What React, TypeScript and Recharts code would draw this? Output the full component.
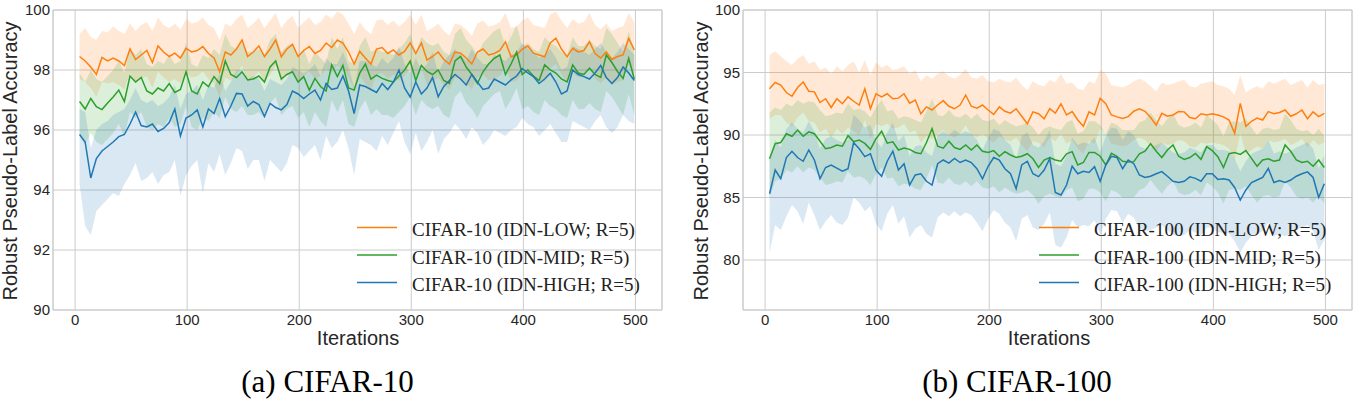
import React from 'react';
import { ComposedChart, Line, Area, XAxis, YAxis, CartesianGrid, ReferenceLine } from 'recharts';

// iterations sampled every 5 steps
const iterations = Array.from({ length: 100 }, (_, i) => 4 + i * 5);
const xTicks = [0, 100, 200, 300, 400, 500];
const xDomain: [number, number] = [-19.7, 523.7];

const cifar10YTicks = [90, 92, 94, 96, 98, 100];
const cifar100YTicks = [80, 85, 90, 95, 100];

// ---- CIFAR-10 ----
const c10Low = [
  98.45, 98.3, 98.1, 97.85, 98.42, 98.3, 98.4, 98.3, 98.15, 98.7,
  98.35, 98.5, 98.65, 98.25, 98.8, 98.6, 98.45, 98.56, 98.4, 98.72,
  98.6, 98.65, 98.78, 98.55, 98.4, 97.94, 98.6, 98.5, 98.7, 99.0,
  98.45, 98.6, 98.8, 98.45, 98.7, 99.0, 98.44, 98.7, 98.85, 98.45,
  98.65, 98.78, 98.55, 98.65, 98.9, 98.75, 99.0, 98.9, 98.6, 98.2,
  98.62, 98.4, 98.2, 98.7, 98.75, 98.55, 98.67, 98.5, 98.62, 98.9,
  98.55, 98.9, 98.33, 98.45, 98.6, 98.35, 98.2, 98.6, 98.56, 98.4,
  98.2, 98.6, 98.7, 98.5, 98.55, 98.65, 98.94, 98.44, 98.5, 98.7,
  98.8, 98.56, 98.5, 98.44, 98.9, 99.06, 98.7, 98.44, 98.72, 98.6,
  98.65, 98.94, 98.55, 98.4, 98.6, 98.35, 98.45, 98.5, 99.05, 98.67,
];
const c10LowHi = [
  99.2, 99.4, 99.1, 99.0, 99.3, 99.25, 99.45, 99.3, 99.2, 99.55,
  99.3, 99.5, 99.6, 99.3, 99.75, 99.5, 99.4, 99.55, 99.35, 99.7,
  99.55, 99.6, 99.75, 99.5, 99.4, 99.0, 99.55, 99.45, 99.7, 99.85,
  99.4, 99.55, 99.75, 99.4, 99.65, 99.9, 99.4, 99.65, 99.8, 99.4,
  99.6, 99.75, 99.5, 99.6, 99.85, 99.7, 99.95, 99.85, 99.55, 99.2,
  99.6, 99.35, 99.2, 99.65, 99.7, 99.5, 99.65, 99.45, 99.6, 99.85,
  99.5, 99.85, 99.3, 99.4, 99.55, 99.3, 99.15, 99.55, 99.5, 99.35,
  99.15, 99.55, 99.65, 99.45, 99.5, 99.6, 99.9, 99.4, 99.45, 99.65,
  99.75, 99.5, 99.45, 99.4, 99.85, 99.95, 99.65, 99.4, 99.7, 99.55,
  99.6, 99.9, 99.5, 99.35, 99.55, 99.3, 99.4, 99.45, 99.9, 99.6,
];
const c10LowLo = [
  97.7, 97.6, 97.4, 97.1, 97.6, 97.55, 97.6, 97.5, 97.35, 97.9,
  97.55, 97.7, 97.8, 97.4, 97.95, 97.75, 97.6, 97.7, 97.55, 97.9,
  97.75, 97.8, 97.95, 97.7, 97.55, 97.1, 97.75, 97.65, 97.85, 98.15,
  97.6, 97.75, 97.95, 97.6, 97.85, 98.15, 97.6, 97.85, 98.0, 97.6,
  97.8, 97.95, 97.7, 97.8, 98.05, 97.9, 98.15, 98.05, 97.75, 97.35,
  97.8, 97.55, 97.35, 97.85, 97.9, 97.7, 97.85, 97.65, 97.8, 98.05,
  97.7, 98.05, 97.5, 97.6, 97.75, 97.5, 97.35, 97.75, 97.7, 97.55,
  97.35, 97.75, 97.85, 97.65, 97.7, 97.8, 98.1, 97.6, 97.65, 97.85,
  97.95, 97.7, 97.65, 97.6, 98.05, 98.2, 97.85, 97.6, 97.9, 97.75,
  97.8, 98.1, 97.7, 97.55, 97.75, 97.5, 97.6, 97.65, 98.2, 97.8,
];
const c10Mid = [
  96.95, 96.7, 97.05, 96.78, 96.68, 96.9, 97.1, 97.33, 96.95, 97.8,
  97.6, 97.75, 97.3, 97.2, 97.4, 97.3, 97.55, 97.25, 97.35, 97.94,
  97.3, 97.2, 97.6, 97.45, 97.78, 97.55, 98.3, 97.85, 97.75, 97.94,
  97.67, 97.7, 97.8, 97.6, 98.1, 98.3, 97.7, 97.85, 97.94, 97.6,
  97.78, 97.33, 97.72, 97.45, 97.3, 98.17, 97.78, 98.15, 97.4, 97.33,
  97.9, 98.2, 97.7, 97.83, 97.72, 97.65, 97.6, 97.8, 98.0, 98.3,
  97.65, 98.15, 97.95, 97.85, 98.0, 97.65, 97.55, 98.3, 98.45, 98.1,
  97.85, 97.55, 97.94, 98.2, 98.39, 98.5, 97.85, 98.2, 98.6, 97.85,
  98.0, 97.8, 97.65, 98.17, 98.0, 97.9, 97.7, 97.6, 98.17, 97.9,
  97.85, 98.06, 97.85, 97.75, 98.5, 98.25, 97.95, 97.72, 98.39, 97.7,
];
const c10MidHi = [
  97.9, 97.6, 98.0, 97.7, 97.6, 97.8, 98.0, 98.3, 97.9, 98.7,
  98.5, 98.7, 98.2, 98.1, 98.3, 98.2, 98.5, 98.2, 98.3, 98.9,
  98.2, 98.1, 98.5, 98.4, 98.7, 98.5, 99.2, 98.8, 98.7, 98.9,
  98.6, 98.6, 98.7, 98.5, 99.0, 99.2, 98.6, 98.8, 98.9, 98.5,
  98.7, 98.2, 98.6, 98.4, 98.2, 99.1, 98.7, 99.1, 98.3, 98.2,
  98.8, 99.1, 98.6, 98.7, 98.6, 98.6, 98.5, 98.7, 98.9, 99.2,
  98.6, 99.1, 98.9, 98.8, 98.9, 98.6, 98.5, 99.2, 99.4, 99.0,
  98.8, 98.5, 98.9, 99.1, 99.3, 99.4, 98.8, 99.1, 99.5, 98.8,
  98.9, 98.7, 98.6, 99.1, 98.9, 98.8, 98.6, 98.5, 99.1, 98.8,
  98.8, 99.0, 98.8, 98.7, 99.4, 99.2, 98.9, 98.6, 99.3, 98.6,
];
const c10MidLo = [
  95.8, 95.5, 95.9, 95.6, 95.5, 95.7, 95.9, 96.2, 95.8, 96.6,
  96.4, 96.6, 96.1, 96.0, 96.2, 96.1, 96.4, 96.1, 96.2, 96.8,
  96.1, 96.0, 96.4, 96.3, 96.6, 96.4, 97.1, 96.7, 96.6, 96.8,
  96.5, 96.5, 96.6, 96.4, 96.9, 97.1, 96.5, 96.7, 96.8, 96.4,
  96.6, 96.1, 96.6, 96.3, 96.1, 97.0, 96.6, 97.0, 96.2, 96.1,
  96.7, 97.0, 96.5, 96.7, 96.5, 96.5, 96.4, 96.6, 96.8, 97.1,
  96.5, 97.0, 96.8, 96.7, 96.8, 96.5, 96.4, 97.1, 97.3, 96.9,
  96.7, 96.4, 96.8, 97.0, 97.2, 97.3, 96.7, 97.0, 97.4, 96.7,
  96.8, 96.6, 96.5, 97.0, 96.8, 96.7, 96.5, 96.4, 97.0, 96.7,
  96.7, 96.9, 96.7, 96.6, 97.3, 97.1, 96.8, 96.5, 97.2, 96.5,
];
const c10High = [
  95.85, 95.6, 94.4, 95.05, 95.3, 95.45, 95.6, 95.78, 95.85, 96.2,
  96.6, 96.15, 96.1, 96.2, 95.95, 96.05, 96.25, 96.7, 95.8, 96.4,
  96.5, 96.67, 96.1, 96.7, 96.55, 97.05, 96.45, 96.8, 97.22, 97.2,
  96.8, 96.95, 96.85, 96.45, 96.89, 96.75, 96.67, 96.85, 97.3, 97.2,
  97.05, 97.2, 97.33, 97.0, 97.55, 97.35, 97.4, 97.8, 97.3, 96.55,
  97.5, 97.45, 97.35, 97.25, 97.55, 97.35, 97.6, 98.0, 97.4, 97.1,
  97.6, 97.2, 97.4, 97.75, 97.11, 97.45, 97.65, 97.85, 97.7, 97.5,
  97.85, 97.6, 97.35, 97.4, 97.7, 97.6, 97.5, 97.67, 97.8, 98.05,
  97.9, 97.78, 97.55, 97.7, 97.89, 97.6, 97.2, 97.3, 98.0, 97.85,
  97.78, 97.7, 97.9, 98.15, 97.75, 97.55, 97.75, 98.1, 97.9, 97.65,
];
const c10HighHi = [
  96.7, 96.6, 95.4, 96.0, 96.2, 96.3, 96.5, 96.6, 96.7, 97.0,
  97.4, 97.0, 96.9, 97.0, 96.8, 96.9, 97.1, 97.5, 96.7, 97.2,
  97.3, 97.5, 97.0, 97.5, 97.4, 97.9, 97.3, 97.6, 98.0, 98.0,
  97.7, 97.8, 97.7, 97.3, 97.7, 97.6, 97.5, 97.7, 98.1, 98.0,
  97.9, 98.0, 98.2, 97.8, 98.4, 98.2, 98.2, 98.6, 98.1, 97.4,
  98.3, 98.3, 98.2, 98.1, 98.4, 98.2, 98.4, 98.8, 98.2, 97.9,
  98.4, 98.0, 98.2, 98.6, 97.9, 98.3, 98.5, 98.7, 98.5, 98.3,
  98.7, 98.4, 98.2, 98.2, 98.5, 98.4, 98.3, 98.5, 98.6, 98.9,
  98.7, 98.6, 98.4, 98.5, 98.7, 98.4, 98.0, 98.1, 98.8, 98.7,
  98.6, 98.5, 98.7, 98.9, 98.6, 98.4, 98.6, 98.9, 98.7, 98.5,
];
const c10HighLo = [
  94.2, 92.8, 92.5, 93.3, 93.5, 93.7, 93.9, 93.8, 94.2, 94.5,
  94.9, 94.3, 94.4, 94.6, 94.2, 94.5, 94.6, 95.0, 93.8, 94.5,
  94.8, 95.0, 93.9, 94.9, 94.6, 95.2, 94.5, 94.9, 95.4, 95.3,
  94.7, 95.0, 95.0, 94.3, 95.0, 94.8, 94.6, 94.9, 95.5, 95.4,
  95.1, 95.3, 95.5, 95.0, 95.8, 95.4, 95.6, 96.0, 95.4, 94.5,
  95.7, 95.6, 95.5, 95.3, 95.8, 95.5, 95.9, 96.3, 95.6, 95.2,
  95.9, 95.3, 95.6, 96.0, 95.2, 95.7, 95.9, 96.2, 96.0, 95.7,
  96.1, 95.9, 95.5, 95.7, 96.0, 95.9, 95.8, 96.0, 96.1, 96.4,
  96.2, 96.1, 95.8, 96.0, 96.2, 95.9, 95.6, 95.6, 96.3, 96.2,
  96.1, 96.0, 96.3, 96.5, 96.1, 95.9, 96.1, 96.5, 96.3, 96.2,
];

// ---- CIFAR-100 ----
const c100Low = [
  93.7, 94.2, 94.0, 93.4, 93.1, 93.8, 94.25, 93.5, 93.45, 92.6,
  92.9, 92.2, 92.9, 92.5, 93.05, 92.7, 92.4, 93.7, 92.1, 93.3,
  93.05, 93.3, 92.9, 92.95, 93.3, 92.55, 92.8, 91.7, 92.25, 92.0,
  92.4, 92.75, 92.3, 92.1, 92.4, 93.2, 92.3, 92.15, 92.4, 92.0,
  91.65, 92.25, 91.9, 91.75, 92.1, 91.5, 90.9, 91.85, 91.7, 91.3,
  92.1, 91.75, 92.5, 91.6, 91.87, 91.2, 90.7, 91.85, 91.6, 92.93,
  92.5, 91.6, 91.45, 91.33, 91.47, 91.9, 92.1, 91.9, 91.4, 90.8,
  91.73, 91.5, 91.6, 91.87, 91.85, 91.4, 91.3, 91.7, 91.6, 91.7,
  91.6, 91.45, 91.2, 90.13, 92.53, 90.7, 91.1, 91.35, 91.2, 91.87,
  91.7, 91.8, 92.0, 91.5, 91.7, 92.0, 91.3, 91.85, 91.47, 91.73,
];
const c100LowHi = [
  96.4, 96.7, 96.3, 95.9, 95.6, 96.1, 96.4, 95.7, 95.9, 95.2,
  95.4, 94.9, 95.5, 95.1, 95.6, 95.9, 95.0, 96.0, 94.8, 95.8,
  95.4, 95.6, 95.2, 95.3, 95.5, 94.9, 95.2, 94.3, 94.8, 94.5,
  94.9, 95.1, 94.7, 94.5, 94.8, 95.3, 94.6, 94.5, 94.8, 94.3,
  94.2, 94.5, 94.3, 94.2, 94.6, 94.0, 93.6, 94.3, 94.0, 93.9,
  94.4, 94.2, 94.9, 94.1, 94.2, 93.7, 93.6, 94.3, 94.1, 95.2,
  94.9, 94.0, 93.9, 93.8, 94.0, 94.3, 94.5, 94.3, 93.9, 93.5,
  94.2, 94.0, 94.1, 94.3, 94.4, 93.9, 93.8, 94.1, 94.2, 94.3,
  94.0, 93.9, 93.7, 93.2, 94.8, 93.4, 93.7, 93.9, 93.7, 94.3,
  94.1, 94.3, 94.5, 94.0, 94.2, 94.4, 93.8, 94.4, 94.0, 94.1,
];
const c100LowLo = [
  91.3, 91.6, 91.6, 91.0, 90.7, 91.4, 91.8, 91.1, 91.0, 90.2,
  90.5, 89.8, 90.5, 90.1, 90.6, 90.3, 90.0, 91.2, 89.7, 90.9,
  90.7, 90.9, 90.5, 90.6, 90.9, 90.2, 90.4, 89.4, 89.9, 89.7,
  90.1, 90.4, 90.0, 89.8, 90.1, 90.8, 90.0, 89.8, 90.1, 89.7,
  89.4, 89.9, 89.6, 89.5, 89.8, 89.2, 88.7, 89.5, 89.4, 89.0,
  89.8, 89.5, 90.1, 89.3, 89.6, 88.9, 88.5, 89.5, 89.3, 90.5,
  90.2, 89.3, 89.2, 89.1, 89.2, 89.6, 89.8, 89.6, 89.1, 88.6,
  89.4, 89.2, 89.3, 89.6, 89.5, 89.1, 89.0, 89.4, 89.3, 89.4,
  89.3, 89.2, 88.9, 88.0, 90.2, 88.5, 88.8, 89.1, 88.9, 89.6,
  89.4, 89.5, 89.7, 89.2, 89.4, 89.7, 89.0, 89.6, 89.2, 89.4,
];
const c100Mid = [
  88.1, 89.3, 89.4, 90.1, 89.9, 90.4, 89.9, 90.25, 90.1, 89.5,
  88.9, 89.0, 89.2, 89.1, 89.95, 89.47, 89.6, 89.33, 88.85, 89.7,
  90.3, 89.35, 89.45, 88.8, 88.95, 88.85, 88.6, 88.5, 89.4, 90.5,
  89.1, 88.95, 89.5, 89.0, 88.85, 89.2, 88.8, 89.2, 88.7, 88.6,
  88.75, 88.3, 88.67, 88.4, 88.2, 88.3, 88.5, 88.1, 87.4, 88.0,
  88.2, 88.0, 87.9, 88.5, 88.67, 87.6, 87.8, 88.6, 88.6, 88.3,
  87.6, 88.53, 88.3, 87.9, 87.85, 87.87, 88.5, 88.7, 89.3, 88.7,
  88.2, 88.8, 89.2, 88.3, 88.05, 88.2, 88.53, 88.05, 89.07, 88.75,
  88.27, 87.4, 88.5, 88.6, 88.45, 88.75, 88.13, 87.5, 88.0, 88.1,
  87.9, 88.0, 89.2, 88.7, 88.0, 87.8, 87.9, 87.5, 88.0, 87.4,
];
const c100MidHi = [
  91.8, 92.2, 92.0, 92.5, 92.3, 92.8, 92.5, 92.7, 92.6, 92.0,
  91.5, 91.6, 91.8, 91.7, 92.5, 92.0, 92.1, 91.9, 91.4, 92.2,
  92.8, 91.9, 92.0, 91.3, 91.5, 91.4, 91.2, 91.0, 91.9, 92.9,
  91.6, 91.5, 92.0, 91.5, 91.4, 91.7, 91.3, 91.7, 91.2, 91.1,
  91.3, 90.8, 91.2, 90.9, 90.7, 90.8, 91.0, 90.6, 90.0, 90.5,
  90.7, 90.5, 90.4, 91.0, 91.2, 90.1, 90.3, 91.1, 91.1, 90.8,
  90.1, 91.0, 90.8, 90.4, 90.4, 90.4, 91.0, 91.2, 91.8, 91.2,
  90.7, 91.3, 91.7, 90.8, 90.6, 90.7, 91.0, 90.6, 91.6, 91.2,
  90.8, 89.9, 91.0, 91.1, 91.0, 91.3, 90.6, 90.0, 90.5, 90.6,
  90.4, 90.5, 91.7, 91.2, 90.5, 90.3, 90.4, 90.0, 90.5, 89.9,
];
const c100MidLo = [
  85.0, 86.3, 86.5, 87.2, 87.0, 87.5, 87.0, 87.4, 87.2, 86.6,
  86.0, 86.1, 86.3, 86.2, 87.1, 86.6, 86.7, 86.5, 86.0, 86.9,
  87.4, 86.5, 86.6, 85.9, 86.1, 86.0, 85.7, 85.6, 86.5, 87.6,
  86.2, 86.1, 86.6, 86.1, 86.0, 86.3, 85.9, 86.3, 85.8, 85.7,
  85.9, 85.4, 85.8, 85.5, 85.3, 85.4, 85.6, 85.2, 84.5, 85.1,
  85.3, 85.1, 85.0, 85.6, 85.8, 84.7, 84.9, 85.7, 85.7, 85.4,
  84.7, 85.6, 85.4, 85.0, 85.0, 85.0, 85.6, 85.8, 86.4, 85.8,
  85.3, 85.9, 86.3, 85.4, 85.2, 85.3, 85.6, 85.2, 86.2, 85.9,
  85.4, 84.5, 85.6, 85.7, 85.6, 85.9, 85.2, 84.6, 85.1, 85.2,
  85.0, 85.1, 86.3, 85.8, 85.1, 84.9, 85.0, 84.6, 85.1, 84.5,
];
const c100High = [
  85.3, 87.2, 86.5, 88.2, 88.7, 88.2, 87.9, 88.8, 88.0, 86.5,
  87.4, 87.6, 87.35, 87.1, 87.3, 89.4, 88.9, 88.27, 88.5, 87.2,
  86.7, 87.9, 88.7, 87.2, 87.7, 86.0, 86.8, 86.9, 86.3, 86.0,
  87.7, 88.0, 87.75, 88.13, 87.8, 88.0, 87.8, 87.3, 86.5, 87.5,
  88.2, 88.0, 87.3, 86.9, 85.7, 87.6, 87.9, 86.9, 86.67, 87.2,
  88.1, 85.4, 85.2, 86.0, 87.5, 86.9, 87.1, 87.0, 87.47, 86.3,
  87.6, 88.3, 88.2, 87.3, 88.0, 87.7, 86.8, 86.6, 86.7, 86.9,
  87.07, 86.7, 86.3, 86.2, 86.3, 86.65, 86.53, 86.3, 86.9, 86.9,
  86.45, 86.5, 86.4, 85.8, 84.8, 85.6, 86.2, 86.4, 86.6, 87.33,
  86.2, 86.35, 86.2, 86.4, 86.7, 86.9, 87.05, 86.6, 85.0, 86.1,
];
const c100HighHi = [
  88.0, 89.6, 89.0, 90.5, 91.0, 90.5, 90.2, 91.1, 90.3, 88.9,
  89.7, 89.9, 89.6, 89.4, 89.6, 91.6, 91.2, 90.6, 90.8, 89.5,
  89.0, 90.2, 91.0, 89.5, 90.0, 88.3, 89.1, 89.2, 88.6, 88.3,
  90.0, 90.3, 90.0, 90.4, 90.1, 90.3, 90.1, 89.6, 88.8, 89.8,
  90.5, 90.3, 89.6, 89.2, 88.0, 89.9, 90.2, 89.2, 89.0, 89.5,
  90.4, 87.7, 87.5, 88.3, 89.8, 89.2, 89.4, 89.3, 89.8, 88.6,
  89.9, 90.6, 90.5, 89.6, 90.3, 90.0, 89.1, 88.9, 89.0, 89.2,
  89.4, 89.0, 88.6, 88.5, 88.6, 89.0, 88.8, 88.6, 89.2, 89.2,
  88.8, 88.8, 88.7, 88.1, 87.1, 87.9, 88.5, 88.7, 88.9, 89.6,
  88.5, 88.7, 88.5, 88.7, 89.0, 89.2, 89.4, 88.9, 87.3, 88.4,
];
const c100HighLo = [
  80.6, 82.8, 82.4, 83.5, 84.4, 83.9, 82.9, 84.6, 83.6, 82.4,
  83.1, 83.6, 83.0, 82.8, 83.4, 85.0, 84.6, 83.9, 84.3, 82.9,
  82.3, 83.7, 84.4, 82.9, 83.5, 81.8, 82.5, 82.8, 82.1, 81.8,
  83.4, 83.8, 83.5, 83.9, 83.5, 83.8, 83.6, 83.0, 82.3, 83.3,
  84.0, 83.7, 83.0, 82.6, 81.5, 83.3, 83.6, 82.6, 82.4, 82.9,
  83.8, 81.2, 81.0, 81.8, 83.2, 82.6, 82.8, 82.7, 83.2, 82.0,
  83.3, 84.0, 83.9, 83.0, 83.7, 83.4, 82.5, 82.3, 82.4, 82.6,
  82.8, 82.4, 82.0, 81.9, 82.0, 82.4, 82.2, 82.0, 82.6, 82.6,
  82.2, 82.2, 82.1, 81.5, 80.6, 81.4, 81.9, 82.1, 82.3, 83.0,
  81.9, 82.1, 81.9, 82.1, 82.4, 82.6, 82.8, 82.3, 80.8, 81.6,
];

interface Series {
  key: string;
  label: string;
  color: string;
  mean: number[];
  lo: number[];
  hi: number[];
}

const cifar10Series: Series[] = [
  { key: 'low', label: 'CIFAR-10 (IDN-LOW; R=5)', color: '#ff7f0e', mean: c10Low, lo: c10LowLo, hi: c10LowHi },
  { key: 'mid', label: 'CIFAR-10 (IDN-MID; R=5)', color: '#2ca02c', mean: c10Mid, lo: c10MidLo, hi: c10MidHi },
  { key: 'high', label: 'CIFAR-10 (IDN-HIGH; R=5)', color: '#1f77b4', mean: c10High, lo: c10HighLo, hi: c10HighHi },
];

const cifar100Series: Series[] = [
  { key: 'low', label: 'CIFAR-100 (IDN-LOW; R=5)', color: '#ff7f0e', mean: c100Low, lo: c100LowLo, hi: c100LowHi },
  { key: 'mid', label: 'CIFAR-100 (IDN-MID; R=5)', color: '#2ca02c', mean: c100Mid, lo: c100MidLo, hi: c100MidHi },
  { key: 'high', label: 'CIFAR-100 (IDN-HIGH; R=5)', color: '#1f77b4', mean: c100High, lo: c100HighLo, hi: c100HighHi },
];

const buildRows = (series: Series[]) =>
  iterations.map((it, i) => {
    const row: any = { it };
    series.forEach((s) => {
      row[s.key] = s.mean[i];
      row[`${s.key}Band`] = [s.lo[i], s.hi[i]];
    });
    return row;
  });

const SANS = '"Liberation Sans", Arial, sans-serif';
const SERIF = '"Liberation Serif", "Times New Roman", serif';
const GRID = '#cccccc';
const tickStyle = { fill: '#262626', fontSize: 15, fontFamily: SANS };

interface PanelProps {
  left: number;
  width: number;
  yAxisWidth: number;
  yDomain: [number, number];
  yTicks: number[];
  series: Series[];
  caption: string;
  yLabelX: number;
  xLabelX: number;
  captionX: number;
  legendX: number;
}

const Panel = ({ left, width, yAxisWidth, yDomain, yTicks, series, caption, yLabelX, xLabelX, captionX, legendX }: PanelProps) => {
  const rows = buildRows(series);
  const legendRows = [227.5, 255, 282.5];
  return (
    <div style={{ position: 'absolute', left, top: 0, width, height: 401 }}>
      <ComposedChart
        width={width}
        height={401}
        data={rows}
        margin={{ top: 10, right: width - yAxisWidth - 609, left: 0, bottom: 61 }}
      >
        <CartesianGrid stroke={GRID} strokeWidth={1} />
        <XAxis
          type="number"
          dataKey="it"
          domain={xDomain}
          ticks={xTicks}
          allowDataOverflow
          height={30}
          tickLine={false}
          tickSize={0}
          tickMargin={4}
          axisLine={{ stroke: GRID }}
          tick={tickStyle}
        />
        <YAxis
          type="number"
          domain={yDomain}
          ticks={yTicks}
          allowDataOverflow
          width={yAxisWidth}
          tickLine={false}
          tickSize={0}
          tickMargin={3}
          axisLine={{ stroke: GRID }}
          tick={tickStyle}
        />
        <ReferenceLine x={xDomain[1]} stroke={GRID} />
        <ReferenceLine y={yDomain[1]} stroke={GRID} />
        {series.map((s) => (
          <Area
            key={`${s.key}-band`}
            type="linear"
            dataKey={`${s.key}Band`}
            stroke="none"
            fill={s.color}
            fillOpacity={0.17}
            isAnimationActive={false}
            activeDot={false}
          />
        ))}
        {series.map((s) => (
          <Line
            key={s.key}
            type="linear"
            dataKey={s.key}
            stroke={s.color}
            strokeWidth={1.5}
            dot={false}
            activeDot={false}
            isAnimationActive={false}
          />
        ))}
      </ComposedChart>
      <svg width={width} height={401} style={{ position: 'absolute', left: 0, top: 0, pointerEvents: 'none' }}>
        <text
          transform={`translate(${yLabelX},161) rotate(-90)`}
          textAnchor="middle"
          fontFamily={SANS}
          fontSize={20}
          fill="#262626"
        >
          Robust Pseudo-Label Accuracy
        </text>
        <text x={xLabelX} y={345} textAnchor="middle" fontFamily={SANS} fontSize={20} fill="#262626">
          Iterations
        </text>
        <text x={captionX} y={392} textAnchor="middle" fontFamily={SERIF} fontSize={31} fill="#000">
          {caption}
        </text>
        {series.map((s, i) => (
          <g key={`legend-${s.key}`}>
            <line x1={legendX} x2={legendX + 40} y1={legendRows[i]} y2={legendRows[i]} stroke={s.color} strokeWidth={1.5} />
            <text x={legendX + 55} y={legendRows[i] + 8.7} fontFamily={SERIF} fontSize={19} fill="#222">
              {s.label}
            </text>
          </g>
        ))}
      </svg>
    </div>
  );
};

const App = () => (
  <div style={{ position: 'absolute', left: 0, top: 0, width: 1355, height: 401, background: '#fff' }}>
    <Panel
      left={0}
      width={680}
      yAxisWidth={53}
      yDomain={[90, 100]}
      yTicks={cifar10YTicks}
      series={cifar10Series}
      caption="(a) CIFAR-10"
      yLabelX={17}
      xLabelX={358}
      captionX={327.5}
      legendX={357}
    />
    <Panel
      left={680}
      width={675}
      yAxisWidth={63}
      yDomain={[76, 100]}
      yTicks={cifar100YTicks}
      series={cifar100Series}
      caption="(b) CIFAR-100"
      yLabelX={28}
      xLabelX={369}
      captionX={337}
      legendX={359}
    />
  </div>
);

export default App;
